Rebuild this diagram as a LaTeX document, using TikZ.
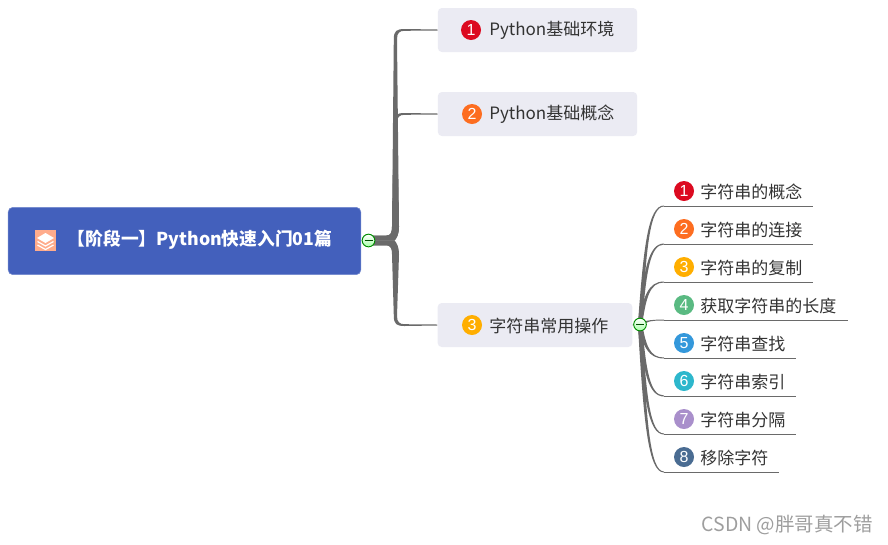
\documentclass[tikz,border=0pt]{standalone}
\usepackage{fontspec}
\setmainfont{Noto Sans CJK SC}
\newfontfamily\digitfont{Liberation Sans}
\usepackage{xcolor}
\usepackage{tikz}
\usetikzlibrary{shapes,positioning,calc,backgrounds}
\definecolor{rootblue}{HTML}{4360BC}
\definecolor{boxgray}{HTML}{EBEBF3}
\definecolor{linkgray}{HTML}{6A6A6A}
\definecolor{textgray}{HTML}{333333}
\definecolor{markred}{HTML}{DC0A20}
\definecolor{markorange}{HTML}{FD6D20}
\definecolor{markyellow}{HTML}{FFAE00}
\definecolor{markgreen}{HTML}{5ABA82}
\definecolor{markblue}{HTML}{3498DB}
\definecolor{markcyan}{HTML}{2DB7CC}
\definecolor{markpurple}{HTML}{A98FCB}
\definecolor{marknavy}{HTML}{4A6C92}
\def\pxu{0.75pt}
% thick branch: hub, target node, spine offset
\newcommand{\trunkline}[3]{%
  \fill[linkgray] let \p1=(#1), \p2=(#2.west), \n1={(\y2>\y1)?1:-1}, \n2={\x1+#3*\pxu} in
    (\x1,\y1+\n1*5*\pxu) -- (\n2-9*\pxu,\y1+\n1*5*\pxu)
    .. controls (\n2-5*\pxu,\y1+\n1*5*\pxu) and (\n2-3.5*\pxu,\y1+\n1*8*\pxu) .. (\n2-3.5*\pxu,\y1+\n1*14*\pxu)
    -- (\n2-1.7*\pxu,\y2-\n1*9*\pxu)
    .. controls (\n2-1.7*\pxu,\y2-\n1*1*\pxu) and (\n2+1*\pxu,\y2+\n1*1*\pxu) .. (\n2+9*\pxu,\y2+\n1*1*\pxu)
    -- (\x2,\y2+\n1*0.5*\pxu) -- (\x2,\y2-\n1*0.5*\pxu) -- (\n2+9*\pxu,\y2-\n1*0.8*\pxu)
    .. controls (\n2+4*\pxu,\y2-\n1*0.8*\pxu) and (\n2+1.5*\pxu,\y2-\n1*3*\pxu) .. (\n2+1.5*\pxu,\y2-\n1*9*\pxu)
    -- (\n2+3.5*\pxu,\y1+\n1*14*\pxu)
    .. controls (\n2+3.5*\pxu,\y1+\n1*6*\pxu) and (\n2+1*\pxu,\y1+\n1*2*\pxu) .. (\n2-1*\pxu,\y1)
    -- (\x1,\y1) -- cycle;}
% thin branch: hub, start of the underline, end of the underline
\newcommand{\leafline}[3]{%
  \fill[linkgray] let \p1=(#1), \p2=(#2), \n1={(\y2>\y1)?1:-1} in
    (\x1-2*\pxu,\y1+\n1*1.5*\pxu)
    .. controls (\x1+3.5*\pxu,0.35*\y1+0.65*\y2) and (\x1+8*\pxu,\y2+\n1*0.5*\pxu) .. (\x2,\y2+\n1*0.5*\pxu)
    -- (\x2,\y2-\n1*0.5*\pxu)
    .. controls (\x1+10*\pxu,\y2-\n1*0.5*\pxu) and (\x1+6*\pxu,0.35*\y1+0.65*\y2) .. (\x1+2*\pxu,\y1-\n1*1.5*\pxu)
    -- cycle;
  \draw[linkgray,line width=0.6pt] (#2) -- (#3);}
\begin{document}
\begin{tikzpicture}[
      x=0.75pt, y=-0.75pt,
      rootbox/.style={rectangle, rounded corners=3.5pt, fill=rootblue, draw=rootblue!75!white, line width=0.4pt, minimum width=264.5pt, minimum height=50.5pt, inner sep=0pt},
      midbox/.style={rectangle, rounded corners=3pt, fill=boxgray, minimum width=149.5pt, minimum height=33pt, inner sep=0pt},
      badge/.style={circle, minimum size=15pt, inner sep=0pt, text=white, font=\digitfont\fontsize{12}{12}\selectfont},
      label/.style={anchor=west, inner sep=0pt, yshift=-0.5pt, text=textgray, font=\fontsize{12.75}{15}\selectfont},
      hub/.style={circle, minimum size=9.5pt, inner sep=0pt, draw=green!55!black, line width=0.7pt, top color=white, bottom color=green!35!white,
        path picture={\draw[green!30!black, line width=0.7pt] ($(path picture bounding box.center)+(-4,0)$) -- ($(path picture bounding box.center)+(4,0)$);}}
    ]
    \useasboundingbox (0,0) rectangle (888,544);

    \node[rootbox] (root) at (184.5,241) {};
    \node[rectangle, fill=orange!55!red!45!white, minimum size=15.5pt, inner sep=0pt] (icon) at (45.5,240.5) {};
    \fill[white] (37,238) -- (45.5,233) -- (54,238) -- (45.5,243) -- cycle;
    \draw[white, line width=0.9pt] (37.5,241.5) -- (45.5,246) -- (53.5,241.5);
    \draw[white, line width=0.9pt] (37.5,245) -- (45.5,249.5) -- (53.5,245);
    \node[anchor=east, inner sep=0pt, text=white, font=\bfseries\fontsize{13.3}{15}\selectfont] (roottext) at (332.5,240) {【阶段一】Python快速入门01篇};

    \node[midbox] (mid1) at (537.5,30) {};
    \node[badge, fill=markred] (mark1) at (471,30) {1};
    \node[label] (text1) at (489,30) {Python基础环境};

    \node[midbox] (mid2) at (537.5,114) {};
    \node[badge, fill=markorange] (mark2) at (472,114) {2};
    \node[label] (text2) at (489,114) {Python基础概念};

    \node[midbox, minimum width=146pt] (mid3) at (535,325) {};
    \node[badge, fill=markyellow] (mark3) at (472,325) {3};
    \node[label] (text3) at (489,325) {字符串常用操作};

    \node[badge, fill=markred] (leafmark1) at (684,191) {1};
    \node[label] (leaftext1) at (700,191) {字符串的概念};
    \node[badge, fill=markorange] (leafmark2) at (684,229) {2};
    \node[label] (leaftext2) at (700,229) {字符串的连接};
    \node[badge, fill=markyellow] (leafmark3) at (684,267) {3};
    \node[label] (leaftext3) at (700,267) {字符串的复制};
    \node[badge, fill=markgreen] (leafmark4) at (684,305) {4};
    \node[label] (leaftext4) at (700,305) {获取字符串的长度};
    \node[badge, fill=markblue] (leafmark5) at (684,343) {5};
    \node[label] (leaftext5) at (700,343) {字符串查找};
    \node[badge, fill=markcyan] (leafmark6) at (684,381) {6};
    \node[label] (leaftext6) at (700,381) {字符串索引};
    \node[badge, fill=markpurple] (leafmark7) at (684,419) {7};
    \node[label] (leaftext7) at (700,419) {字符串分隔};
    \node[badge, fill=marknavy] (leafmark8) at (684,457) {8};
    \node[label] (leaftext8) at (700,457) {移除字符};

    \coordinate (start1) at (664,206);
    \coordinate (end1) at (813,206);
    \coordinate (start2) at (664,244);
    \coordinate (end2) at (813,244);
    \coordinate (start3) at (664,282);
    \coordinate (end3) at (813,282);
    \coordinate (start4) at (664,320);
    \coordinate (end4) at (848,320);
    \coordinate (start5) at (664,358);
    \coordinate (end5) at (796,358);
    \coordinate (start6) at (664,396);
    \coordinate (end6) at (796,396);
    \coordinate (start7) at (664,434);
    \coordinate (end7) at (796,434);
    \coordinate (start8) at (664,472);
    \coordinate (end8) at (779,472);

    \node[hub] (hub1) at (368.5,240.5) {};
    \node[hub] (hub2) at (640,324.5) {};

    \begin{scope}[on background layer]
      \trunkline{hub1}{mid1}{27}
      \trunkline{hub1}{mid2}{27}
      \trunkline{hub1}{mid3}{27}
      \leafline{hub2}{start1}{end1}
      \leafline{hub2}{start2}{end2}
      \leafline{hub2}{start3}{end3}
      \leafline{hub2}{start4}{end4}
      \leafline{hub2}{start5}{end5}
      \leafline{hub2}{start6}{end6}
      \leafline{hub2}{start7}{end7}
      \leafline{hub2}{start8}{end8}
      \draw[linkgray, line width=1pt] (mid3.east) -- (hub2);
    \end{scope}

    \node[anchor=east, inner sep=0pt, text=black!38, font=\fontsize{14.6}{16}\selectfont] (mark) at (873,525) {CSDN @胖哥真不错};
  \end{tikzpicture}
\end{document}
